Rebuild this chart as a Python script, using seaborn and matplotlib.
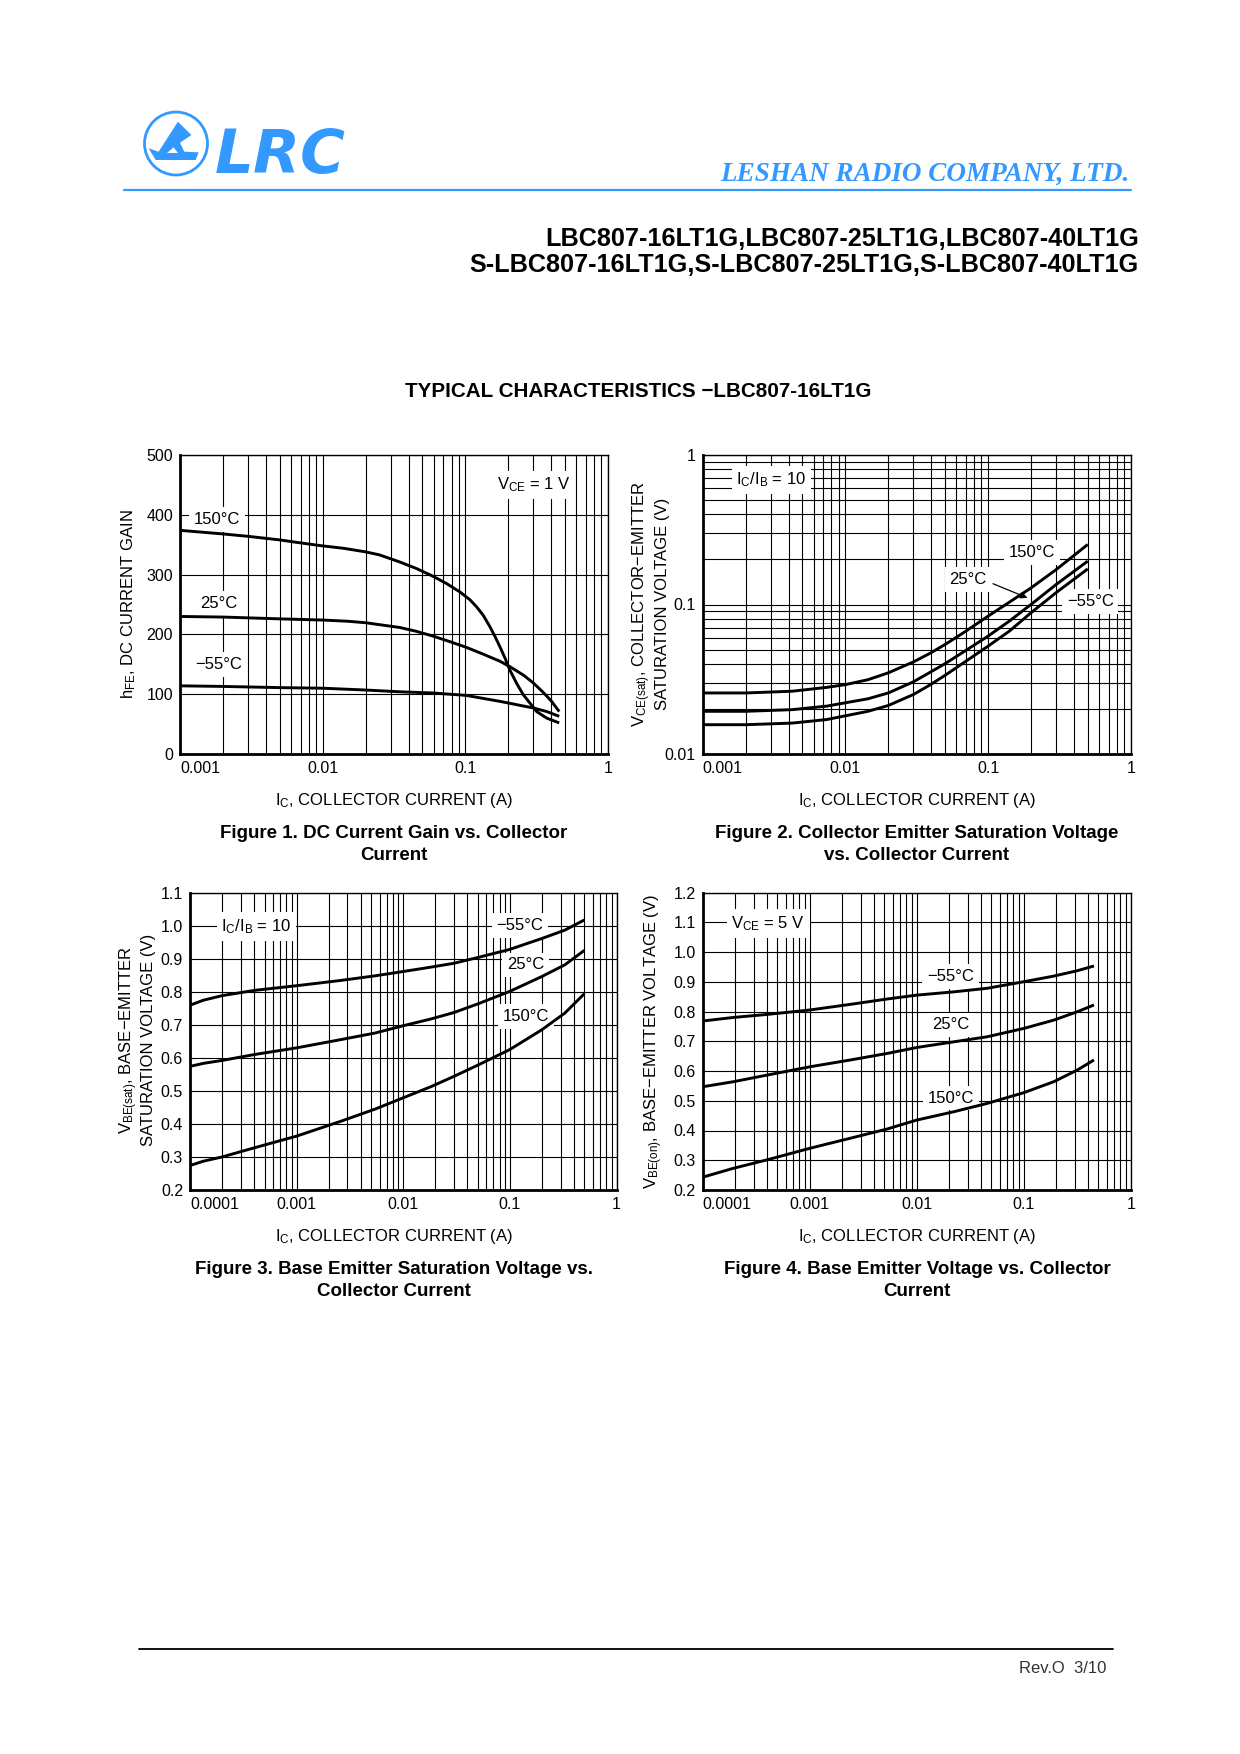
import numpy as np
import pandas as pd
import matplotlib
matplotlib.use("Agg")
import matplotlib.pyplot as plt
import seaborn as sns
from matplotlib.ticker import LogLocator, FixedLocator, NullFormatter, NullLocator
from matplotlib.patches import Circle, Polygon

# ---------------- data ----------------
TEMPS = ["150°C", "25°C", "−55°C"]

# Figure 1: DC current gain hFE vs IC (VCE = 1 V)
f1_ic_150 = [0.001, 0.002, 0.003, 0.005, 0.007, 0.01, 0.014, 0.02, 0.025, 0.0348, 0.0456, 0.0596,
             0.0739, 0.0916, 0.1077, 0.12, 0.1334, 0.1486, 0.161, 0.175, 0.19, 0.2055, 0.229,
             0.255, 0.284, 0.316, 0.372, 0.455]
f1_h_150 = [374, 368, 364, 358, 353, 348, 344, 338, 333, 321, 310, 297,
            285, 271, 258, 246, 232, 213, 197, 179, 160, 140, 118,
            99, 85, 71, 60, 52]
f1_ic_25 = [0.001, 0.002, 0.005, 0.01, 0.015, 0.02, 0.0348, 0.0456, 0.0596, 0.0777, 0.1012,
            0.1334, 0.175, 0.2055, 0.255, 0.299, 0.3515, 0.4025, 0.455]
f1_h_25 = [230, 229, 226, 224, 222, 219.5, 211.5, 205, 197, 188, 178.5,
           167, 155, 146, 132, 119, 103, 88, 71]
f1_ic_m55 = [0.001, 0.002, 0.005, 0.01, 0.02, 0.0348, 0.0596, 0.1012, 0.175, 0.299, 0.372, 0.455]
f1_h_m55 = [114, 113, 111, 110, 107, 104, 102, 98, 88, 77, 71, 63]

# Figure 2: VCE(sat) vs IC (IC/IB = 10)
f2_ic = [0.001, 0.002, 0.00425, 0.0074, 0.01, 0.0144, 0.02, 0.03, 0.0393, 0.05, 0.0686,
         0.1, 0.141, 0.2, 0.3, 0.5]
f2_v_150 = [0.0256, 0.0256, 0.0263, 0.0279, 0.0291, 0.0314, 0.0349, 0.0413, 0.0472, 0.0540,
            0.0655, 0.0835, 0.1036, 0.129, 0.171, 0.252]
f2_v_25 = [0.0193, 0.0193, 0.0198, 0.0209, 0.022, 0.0234, 0.0256, 0.0304, 0.0352, 0.0402,
           0.0487, 0.0614, 0.0774, 0.100, 0.136, 0.195]
f2_v_m55 = [0.0157, 0.0157, 0.0161, 0.0170, 0.018, 0.0193, 0.0211, 0.0250, 0.0290, 0.0336,
            0.0412, 0.0526, 0.0663, 0.088, 0.120, 0.173]

# Figure 3: VBE(sat) vs IC (IC/IB = 10)
f3_ic = [0.0001, 0.000133, 0.0002, 0.000405, 0.001, 0.0026, 0.00547, 0.01, 0.018, 0.03,
         0.051, 0.1, 0.2, 0.327, 0.5]
f3_v_m55 = [0.759, 0.774, 0.788, 0.804, 0.818, 0.834, 0.848, 0.861, 0.874, 0.886,
            0.904, 0.928, 0.961, 0.986, 1.017]
f3_v_25 = [0.574, 0.583, 0.592, 0.610, 0.630, 0.655, 0.675, 0.697, 0.717, 0.737,
           0.764, 0.801, 0.846, 0.881, 0.925]
f3_v_150 = [0.274, 0.287, 0.300, 0.328, 0.363, 0.408, 0.445, 0.479, 0.512, 0.544,
            0.579, 0.625, 0.685, 0.735, 0.794]

# Figure 4: VBE(on) vs IC (VCE = 5 V)
f4_ic = [0.0001, 0.000194, 0.000397, 0.001, 0.0024, 0.0053, 0.01, 0.0222, 0.0455, 0.1,
         0.191, 0.316, 0.454]
f4_v_m55 = [0.768, 0.780, 0.790, 0.805, 0.824, 0.842, 0.855, 0.866, 0.878, 0.900,
            0.919, 0.937, 0.953]
f4_v_25 = [0.547, 0.564, 0.586, 0.614, 0.637, 0.659, 0.679, 0.698, 0.715, 0.743,
           0.771, 0.799, 0.822]
f4_v_150 = [0.243, 0.273, 0.301, 0.340, 0.374, 0.405, 0.435, 0.463, 0.491, 0.527,
            0.564, 0.603, 0.637]

# tick labels
x_ticks_3dec = [0.001, 0.01, 0.1, 1]
x_ticklabels_3dec = ["0.001", "0.01", "0.1", "1"]
x_ticks_4dec = [0.0001, 0.001, 0.01, 0.1, 1]
x_ticklabels_4dec = ["0.0001", "0.001", "0.01", "0.1", "1"]
f1_yticks = [0, 100, 200, 300, 400, 500]
f2_yticks = [0.01, 0.1, 1]
f2_yticklabels = ["0.01", "0.1", "1"]
f3_yticks = [0.2, 0.3, 0.4, 0.5, 0.6, 0.7, 0.8, 0.9, 1.0, 1.1]
f4_yticks = [0.2, 0.3, 0.4, 0.5, 0.6, 0.7, 0.8, 0.9, 1.0, 1.1, 1.2]

# ---------------- style ----------------
sns.set_theme(style="white")
plt.rcParams["font.family"] = ["Liberation Sans", "DejaVu Sans"]
plt.rcParams["mathtext.fontset"] = "custom"
plt.rcParams["mathtext.rm"] = "Liberation Sans"
plt.rcParams["mathtext.default"] = "regular"
plt.rcParams["text.color"] = "black"

W, H = 1240, 1754
BLUE = "#3399FF"
fig = plt.figure(figsize=(W / 100, H / 100), dpi=100)
fig.patch.set_facecolor("white")

ov = fig.add_axes([0, 0, 1, 1])
ov.set_xlim(0, W)
ov.set_ylim(H, 0)
ov.set_axis_off()


def px_axes(left, top, right, bottom):
    return fig.add_axes([left / W, 1 - bottom / H, (right - left) / W, (bottom - top) / H])


def long_df(ics, vals):
    frames = []
    for t, ic, v in zip(TEMPS, ics, vals):
        frames.append(pd.DataFrame({"Ic": ic, "val": v, "temp": t}))
    return pd.concat(frames, ignore_index=True)


def draw_curves(ax, df):
    sns.lineplot(data=df, x="Ic", y="val", hue="temp", units="temp", estimator=None,
                 palette={t: "black" for t in TEMPS}, legend=False, ax=ax,
                 linewidth=2.1, zorder=4)
    for ln in ax.get_lines():
        ln.set_solid_joinstyle("round")
        ln.set_solid_capstyle("butt")


def style(ax, xlim, ylim, xticks, xlabels, yticks, ylabels, ylog=False):
    ax.set_xscale("log")
    if ylog:
        ax.set_yscale("log")
    ax.set_xlim(*xlim)
    ax.set_ylim(*ylim)
    ax.xaxis.set_major_locator(FixedLocator(xticks))
    ax.set_xticklabels(xlabels)
    ax.xaxis.set_minor_locator(LogLocator(base=10, subs=np.arange(2, 10), numticks=30))
    ax.xaxis.set_minor_formatter(NullFormatter())
    ax.yaxis.set_major_locator(FixedLocator(yticks))
    ax.set_yticklabels(ylabels)
    if ylog:
        ax.yaxis.set_minor_locator(LogLocator(base=10, subs=np.arange(2, 10), numticks=30))
        ax.yaxis.set_minor_formatter(NullFormatter())
    else:
        ax.yaxis.set_minor_locator(NullLocator())
    ax.grid(True, which="both", axis="x", color="black", lw=0.8)
    ax.grid(True, which="both", axis="y", color="black", lw=0.8)
    ax.set_axisbelow(True)
    for s in ["left", "bottom"]:
        ax.spines[s].set_linewidth(2.0)
        ax.spines[s].set_color("black")
    for s in ["top", "right"]:
        ax.spines[s].set_linewidth(1.0)
        ax.spines[s].set_color("black")
    ax.tick_params(which="both", length=0, pad=5, labelsize=11.5, labelcolor="black")
    ax.set_xlabel("")
    ax.set_ylabel("")
    ax.set_facecolor("white")
    ax.get_xticklabels()[0].set_ha("left")


LBL = dict(fontsize=12, ha="center", va="center", zorder=3,
           bbox=dict(facecolor="white", edgecolor="none", pad=3.5))

# ---------------- Figure 1 ----------------
ax1 = px_axes(180, 455, 608, 754)
draw_curves(ax1, long_df([f1_ic_150, f1_ic_25, f1_ic_m55], [f1_h_150, f1_h_25, f1_h_m55]))
style(ax1, (0.001, 1), (0, 500), x_ticks_3dec, x_ticklabels_3dec, f1_yticks, [str(v) for v in f1_yticks])
ax1.text(0.30, 450, r"V$_{CE}$ = 1 V", **LBL)
ax1.text(0.00182, 392, TEMPS[0], **LBL)
ax1.text(0.00188, 252, TEMPS[1], **LBL)
ax1.text(0.00188, 150, TEMPS[2], **LBL)

# ---------------- Figure 2 ----------------
ax2 = px_axes(702.6, 455, 1130.7, 754)
draw_curves(ax2, long_df([f2_ic] * 3, [f2_v_150, f2_v_25, f2_v_m55]))
style(ax2, (0.001, 1), (0.01, 1), x_ticks_3dec, x_ticklabels_3dec, f2_yticks, f2_yticklabels, ylog=True)
ax2.text(0.00304, 0.68, r"I$_{C}$/I$_{B}$ = 10", **LBL)
ax2.text(0.203, 0.222, TEMPS[0], **LBL)
ax2.text(0.0724, 0.147, TEMPS[1], **LBL)
ax2.text(0.52, 0.105, TEMPS[2], **LBL)
ax2.annotate("", xy=(0.197, 0.109), xytext=(0.104, 0.14),
             arrowprops=dict(arrowstyle="-|>", color="black", lw=0.9, mutation_scale=10), zorder=5)

# ---------------- Figure 3 ----------------
ax3 = px_axes(190, 892.5, 616.5, 1190)
draw_curves(ax3, long_df([f3_ic] * 3, [f3_v_150, f3_v_25, f3_v_m55]))
style(ax3, (0.0001, 1), (0.2, 1.1), x_ticks_4dec, x_ticklabels_4dec, f3_yticks,
      ["%.1f" % v for v in f3_yticks])
ax3.text(0.00042, 0.997, r"I$_{C}$/I$_{B}$ = 10", **LBL)
ax3.text(0.124, 1.0, TEMPS[2], **LBL)
ax3.text(0.141, 0.881, TEMPS[1], **LBL)
ax3.text(0.141, 0.725, TEMPS[0], **LBL)

# ---------------- Figure 4 ----------------
ax4 = px_axes(702.6, 892.5, 1130.7, 1190)
draw_curves(ax4, long_df([f4_ic] * 3, [f4_v_150, f4_v_25, f4_v_m55]))
style(ax4, (0.0001, 1), (0.2, 1.2), x_ticks_4dec, x_ticklabels_4dec, f4_yticks,
      ["%.1f" % v for v in f4_yticks])
ax4.text(0.00041, 1.096, r"V$_{CE}$ = 5 V", **LBL)
ax4.text(0.0208, 0.917, TEMPS[2], **LBL)
ax4.text(0.0208, 0.755, TEMPS[1], **LBL)
ax4.text(0.0208, 0.509, TEMPS[0], **LBL)

# ---------------- page texts ----------------
# logo
ov.add_patch(Circle((176, 143.5), 31.5, facecolor="none", edgecolor=BLUE, lw=2.0))
ov.add_patch(Polygon([(148.6, 148.3), (158.6, 151.7), (177.9, 121.7), (191.4, 135), (180, 142.7),
                      (184.3, 151.7), (198.6, 152.3), (195.7, 160), (155.7, 160)],
                     closed=True, facecolor=BLUE, edgecolor="none"))
ov.add_patch(Polygon([(167.1, 153), (173.6, 147.3), (177.9, 153)], closed=True,
                     facecolor="white", edgecolor="none"))
ov.text(215, 173, "LRC", fontsize=44, fontweight="bold", fontstyle="oblique",
        family=["DejaVu Sans"], color=BLUE, ha="left", va="baseline")
ov.plot([124, 1131], [189.5, 189.5], color=BLUE, lw=1.6)
ov.text(1129, 181, "LESHAN RADIO COMPANY, LTD.", fontsize=19.5, fontstyle="italic",
        fontweight="bold", family=["Liberation Serif", "DejaVu Serif"], color=BLUE,
        ha="right", va="baseline")

ov.text(1139, 246, "LBC807-16LT1G,LBC807-25LT1G,LBC807-40LT1G", fontsize=18.2,
        fontweight="bold", ha="right", va="baseline")
ov.text(1139, 272, "S-LBC807-16LT1G,S-LBC807-25LT1G,S-LBC807-40LT1G", fontsize=18.2,
        fontweight="bold", ha="right", va="baseline")
ov.text(638, 397, "TYPICAL CHARACTERISTICS −LBC807-16LT1G", fontsize=14.9,
        fontweight="bold", ha="center", va="baseline")

# axis labels
XLAB = r"I$_{C}$, COLLECTOR CURRENT (A)"
for cx, cy in [(393.6, 800), (917, 800), (393.6, 1236), (917, 1236)]:
    ov.text(cx, cy, XLAB, fontsize=12, ha="center", va="center")

ov.text(129, 604, r"h$_{FE}$, DC CURRENT GAIN", fontsize=12, rotation=90, ha="center", va="center")
ov.text(642, 604, r"V$_{CE(sat)}$, COLLECTOR−EMITTER", fontsize=12, rotation=90, ha="center", va="center")
ov.text(663, 604, "SATURATION VOLTAGE (V)", fontsize=12, rotation=90, ha="center", va="center")
ov.text(129, 1040, r"V$_{BE(sat)}$, BASE−EMITTER", fontsize=12, rotation=90, ha="center", va="center")
ov.text(148, 1040, "SATURATION VOLTAGE (V)", fontsize=12, rotation=90, ha="center", va="center")
ov.text(654, 1041, r"V$_{BE(on)}$, BASE−EMITTER VOLTAGE (V)", fontsize=12, rotation=90,
        ha="center", va="center")

# captions
CAP = dict(fontsize=13.5, fontweight="bold", ha="center", va="center")
ov.text(393.6, 833, "Figure 1. DC Current Gain vs. Collector", **CAP)
ov.text(393.6, 855, "Current", **CAP)
ov.text(917, 833, "Figure 2. Collector Emitter Saturation Voltage", **CAP)
ov.text(917, 855, "vs. Collector Current", **CAP)
ov.text(393.6, 1269, "Figure 3. Base Emitter Saturation Voltage vs.", **CAP)
ov.text(393.6, 1291, "Collector Current", **CAP)
ov.text(917, 1269, "Figure 4. Base Emitter Voltage vs. Collector", **CAP)
ov.text(917, 1291, "Current", **CAP)

# footer
ov.plot([139, 1113], [1649, 1649], color="black", lw=1.3)
ov.text(1106, 1673, "Rev.O  3/10", fontsize=12, color="#333333", ha="right", va="baseline")

fig.savefig("out.png", dpi=100, facecolor="white")
